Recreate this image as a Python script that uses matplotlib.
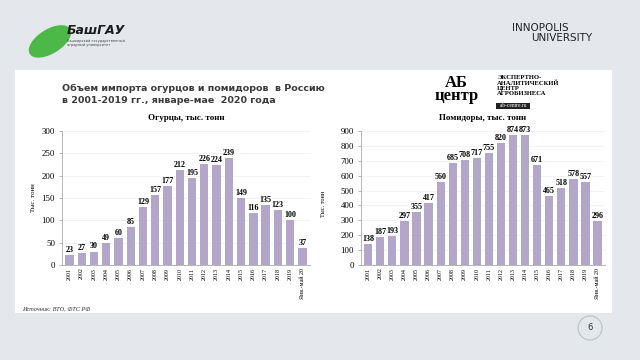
import matplotlib
matplotlib.use('Agg')
import matplotlib.pyplot as plt
from matplotlib.patches import Rectangle, Ellipse

# data
years = ['2001', '2002', '2003', '2004', '2005', '2006', '2007', '2008', '2009', '2010',
         '2011', '2012', '2013', '2014', '2015', '2016', '2017', '2018', '2019', 'Янв.-май 20']
cucumbers = [23, 27, 30, 49, 60, 85, 129, 157, 177, 212, 195, 226, 224, 239, 149, 116, 135, 123, 100, 37]
tomatoes = [138, 187, 193, 297, 355, 417, 560, 685, 708, 717, 755, 820, 874, 873, 671, 465, 518, 578, 557, 296]

bar_color = '#b3a6c9'
serif = ['Liberation Serif', 'DejaVu Serif']

fig = plt.figure(figsize=(6.4, 3.6), dpi=100)
fig.patch.set_facecolor('#e4e7eb')

# white panel (behind the axes)
fig.patches.append(Rectangle((0.023, 0.131), 0.933, 0.675, transform=fig.transFigure,
                             facecolor='white', edgecolor='none', zorder=-5))

# logos (approximate, as text)
fig.patches.append(Ellipse((0.078, 0.885), 0.05, 0.1, transform=fig.transFigure,
                           facecolor='#4cb848', edgecolor='none', angle=-30, zorder=-4))
fig.text(0.105, 0.905, 'БашГАУ', fontsize=9, fontweight='bold', style='italic',
         color='#1c1c1c', family='DejaVu Sans')
fig.text(0.105, 0.872, 'Башкирский государственный\nаграрный университет', fontsize=2.5,
         color='#444444', linespacing=1.1)
fig.text(0.80, 0.915, 'INNOPOLIS', fontsize=7.5, color='#222222', family='DejaVu Sans')
fig.text(0.83, 0.885, 'UNIVERSITY', fontsize=7.5, color='#222222', family='DejaVu Sans')

# slide title
fig.text(0.097, 0.738, 'Объем импорта огурцов и помидоров  в Россию\nв 2001-2019 гг., январе-мае  2020 года',
         fontsize=6.8, fontweight='bold', color='#3a3a3a', va='center', linespacing=1.4,
         family='DejaVu Sans')

# AB centre logo
fig.text(0.713, 0.752, 'АБ\nцентр', fontsize=12, fontweight='bold', ha='center', va='center',
         family=serif, linespacing=0.75)
fig.text(0.777, 0.762, 'ЭКСПЕРТНО-\nАНАЛИТИЧЕСКИЙ\nЦЕНТР\nАГРОБИЗНЕСА', fontsize=4.8,
         family=serif, va='center', linespacing=1.0, fontweight='bold')
fig.text(0.777, 0.706, '  ab-centre.ru  ', fontsize=4, color='white', family=serif, va='center',
         bbox=dict(facecolor='#222222', edgecolor='none', pad=0.6))

# source and page number
fig.text(0.035, 0.137, 'Источник: ВТО, ФТС РФ', fontsize=4.5, style='italic', family=serif,
         color='#333333')
fig.patches.append(Ellipse((0.922, 0.089), 24 / 640, 24 / 360, transform=fig.transFigure,
                           facecolor='none', edgecolor='#b5c4bd', lw=0.8))
fig.text(0.922, 0.089, '6', fontsize=6, ha='center', va='center', color='#333333')


def draw(ax, vals, title, ymax, step):
    x = list(range(len(vals)))
    ax.bar(x, vals, width=0.68, color=bar_color, zorder=2)
    for xi, v in zip(x, vals):
        ax.text(xi, v + ymax * 0.008, str(v), ha='center', va='bottom', fontsize=5.8,
                fontweight='bold', family=serif, zorder=3)
    ax.set_xlim(-0.6, len(vals) - 0.4)
    ax.set_ylim(0, ymax)
    ax.set_yticks(range(0, ymax + 1, step))
    ax.set_xticks(x)
    ax.set_xticklabels(years, rotation=90, fontsize=4.3, family=serif)
    for lab in ax.get_yticklabels():
        lab.set_family(serif)
        lab.set_fontsize(6.3)
    ax.tick_params(axis='y', length=2, width=0.5, color='#999999', pad=3)
    ax.tick_params(axis='x', length=0, pad=2)
    ax.grid(axis='y', color='#eeeeee', lw=0.5, zorder=0)
    for s in ['top', 'right']:
        ax.spines[s].set_visible(False)
    for s in ['left', 'bottom']:
        ax.spines[s].set_color('#aaaaaa')
        ax.spines[s].set_linewidth(0.6)
    ax.set_title(title, fontsize=6.5, fontweight='bold', family=serif, pad=8)


ax1 = fig.add_axes([0.097, 0.264, 0.387, 0.372])
draw(ax1, cucumbers, 'Огурцы, тыс. тонн', 300, 50)
ax1.set_ylabel('Тыс. тонн', fontsize=5, family=serif, labelpad=4)

ax2 = fig.add_axes([0.564, 0.264, 0.381, 0.372])
draw(ax2, tomatoes, 'Помидоры, тыс. тонн', 900, 100)
fig.text(0.505, 0.435, 'Тыс. тонн', fontsize=4.5, family=serif, rotation=90,
         ha='center', va='center')

fig.savefig('out.png', dpi=100, facecolor=fig.get_facecolor())
